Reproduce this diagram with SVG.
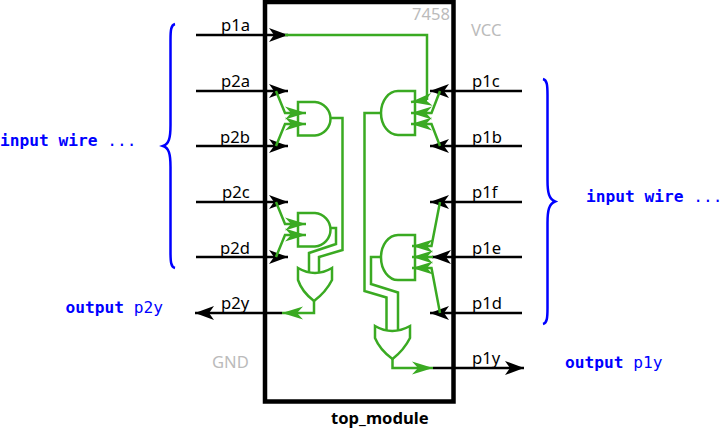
<svg xmlns="http://www.w3.org/2000/svg" width="723" height="428" viewBox="0 0 723 428">
<style>
text{font-family:"Noto Sans","Open Sans",sans-serif;font-size:16.600px;fill:#000}
.g{fill:#bbb}
.m{font-family:"DejaVu Sans Mono","Liberation Mono",monospace;font-size:16.200px;fill:#00f}
.b{font-weight:bold}
.w{fill:none;stroke:#000;stroke-width:2.400}
.a{fill:none;stroke:#3aaa22;stroke-width:2.500}
.gt{fill:#fff;stroke:#3aaa22;stroke-width:2.500}
.br{fill:none;stroke:#00f;stroke-width:2.500}
</style>
<defs>
<marker id="k" markerUnits="userSpaceOnUse" markerWidth="20" markerHeight="16" refX="19" refY="8" orient="auto"><path d="M19 8L0 1L5 8L0 15Z" fill="#000"/></marker>
<marker id="n" markerUnits="userSpaceOnUse" markerWidth="22" markerHeight="16" refX="21" refY="8" orient="auto"><path d="M21 8L0 1.500L6 8L0 14.500Z" fill="#3aaa22"/></marker>
</defs>
<g id="module-box"><rect x="265" y="2" width="188.500" height="399.500" fill="#fff" stroke="#000" stroke-width="4.500"/></g>
<g id="connectors">
<path class="w" marker-end="url(#k)" d="M196 35H288"/>
<path class="w" marker-end="url(#k)" d="M196 91H288"/>
<path class="w" marker-end="url(#k)" d="M196 146H288"/>
<path class="w" marker-end="url(#k)" d="M196 202H288"/>
<path class="w" marker-end="url(#k)" d="M196 257H288"/>
<path class="w" marker-end="url(#k)" d="M282 313H195"/>
<path class="w" marker-end="url(#k)" d="M522 91H430"/>
<path class="w" marker-end="url(#k)" d="M522 146H430"/>
<path class="w" marker-end="url(#k)" d="M522 202H430"/>
<path class="w" marker-end="url(#k)" d="M522 257H432"/>
<path class="w" marker-end="url(#k)" d="M522 313H430"/>
<path class="w" marker-end="url(#k)" d="M433 368H524"/>
<path class="a" d="M285 35H427V100"/>
<path class="a" marker-end="url(#n)" d="M427 100L411 102"/>
<path class="a" marker-end="url(#n)" d="M440 91L431.500 113H411"/>
<path class="a" marker-end="url(#n)" d="M440 146L431.500 124H411"/>
<path class="a" marker-end="url(#n)" d="M440 202L431.500 246H412"/>
<path class="a" marker-end="url(#n)" d="M433 257H412"/>
<path class="a" marker-end="url(#n)" d="M440 313L431.500 268H412"/>
<path class="a" marker-end="url(#n)" d="M276 91L285 113H306"/>
<path class="a" marker-end="url(#n)" d="M276 146L285 124H306"/>
<path class="a" marker-end="url(#n)" d="M276 202L285 224H306"/>
<path class="a" marker-end="url(#n)" d="M276 257L285 235H306"/>
<path class="a" d="M331 118H342.500V250L319 257V275"/>
<path class="a" d="M331 228H336V244L309 253V275"/>
<path class="a" marker-end="url(#n)" d="M314 300V313H282"/>
<path class="a" d="M381 113H364.500V291L386.500 297.500V330"/>
<path class="a" d="M381 257H371V284L398 292.500V330"/>
<path class="a" marker-end="url(#n)" d="M392.500 359V368H433"/>
</g>
<g id="and-1"><path class="a" d="M298 102H315A16.800 16.800 0 0 1 315 135.500H298Z"/></g>
<g id="and-2"><path class="a" d="M298 213H315A16.800 16.800 0 0 1 315 246.500H298Z"/></g>
<g id="and-3"><path class="a" d="M415 91H398A17 22 0 0 0 398 135H415Z"/></g>
<g id="and-4"><path class="a" d="M415 235H398A17 22.500 0 0 0 398 280H415Z"/></g>
<g id="or-1"><path class="gt" d="M298 268Q315 278 332 268V280Q326 292 314 301Q302 292 298 280Z"/></g>
<g id="or-2"><path class="gt" d="M375 326Q392 336 410 326V338Q404 350 392.500 359Q380 350 375 338Z"/></g>
<g id="labels">
<text x="221" y="31">p1a</text>
<text x="221" y="87">p2a</text>
<text x="220" y="143">p2b</text>
<text x="222" y="198">p2c</text>
<text x="220" y="254">p2d</text>
<text x="221" y="309">p2y</text>
<text x="472" y="87">p1c</text>
<text x="472" y="143">p1b</text>
<text x="472" y="198">p1f</text>
<text x="472" y="254">p1e</text>
<text x="472" y="309">p1d</text>
<text x="472" y="364">p1y</text>
<text class="g" x="412" y="20">7458</text>
<text class="g" x="471" y="36">VCC</text>
<text class="g" x="212" y="368">GND</text>
<text class="b" x="331" y="424">top_module</text>
<text class="m" x="0" y="146"><tspan class="b">input wire</tspan> ...</text>
<text class="m" x="586" y="202"><tspan class="b">input wire</tspan> ...</text>
<text class="m" x="65.500" y="313"><tspan class="b">output</tspan> p2y</text>
<text class="m" x="565" y="368"><tspan class="b">output</tspan> p1y</text>
</g>
<g id="braces">
<path class="br" d="M175 24C171 25 170.500 30 170.500 40V125C170.500 138 169 144 163 146C169 148 170.500 154 170.500 167V252C170.500 262 171 267 175 268"/>
<path class="br" d="M543 79C547 80 547.500 85 547.500 95V180C547.500 193 549 199 555 201.500C549 204 547.500 210 547.500 223V308C547.500 318 547 323 543 324"/>
</g>
</svg>
